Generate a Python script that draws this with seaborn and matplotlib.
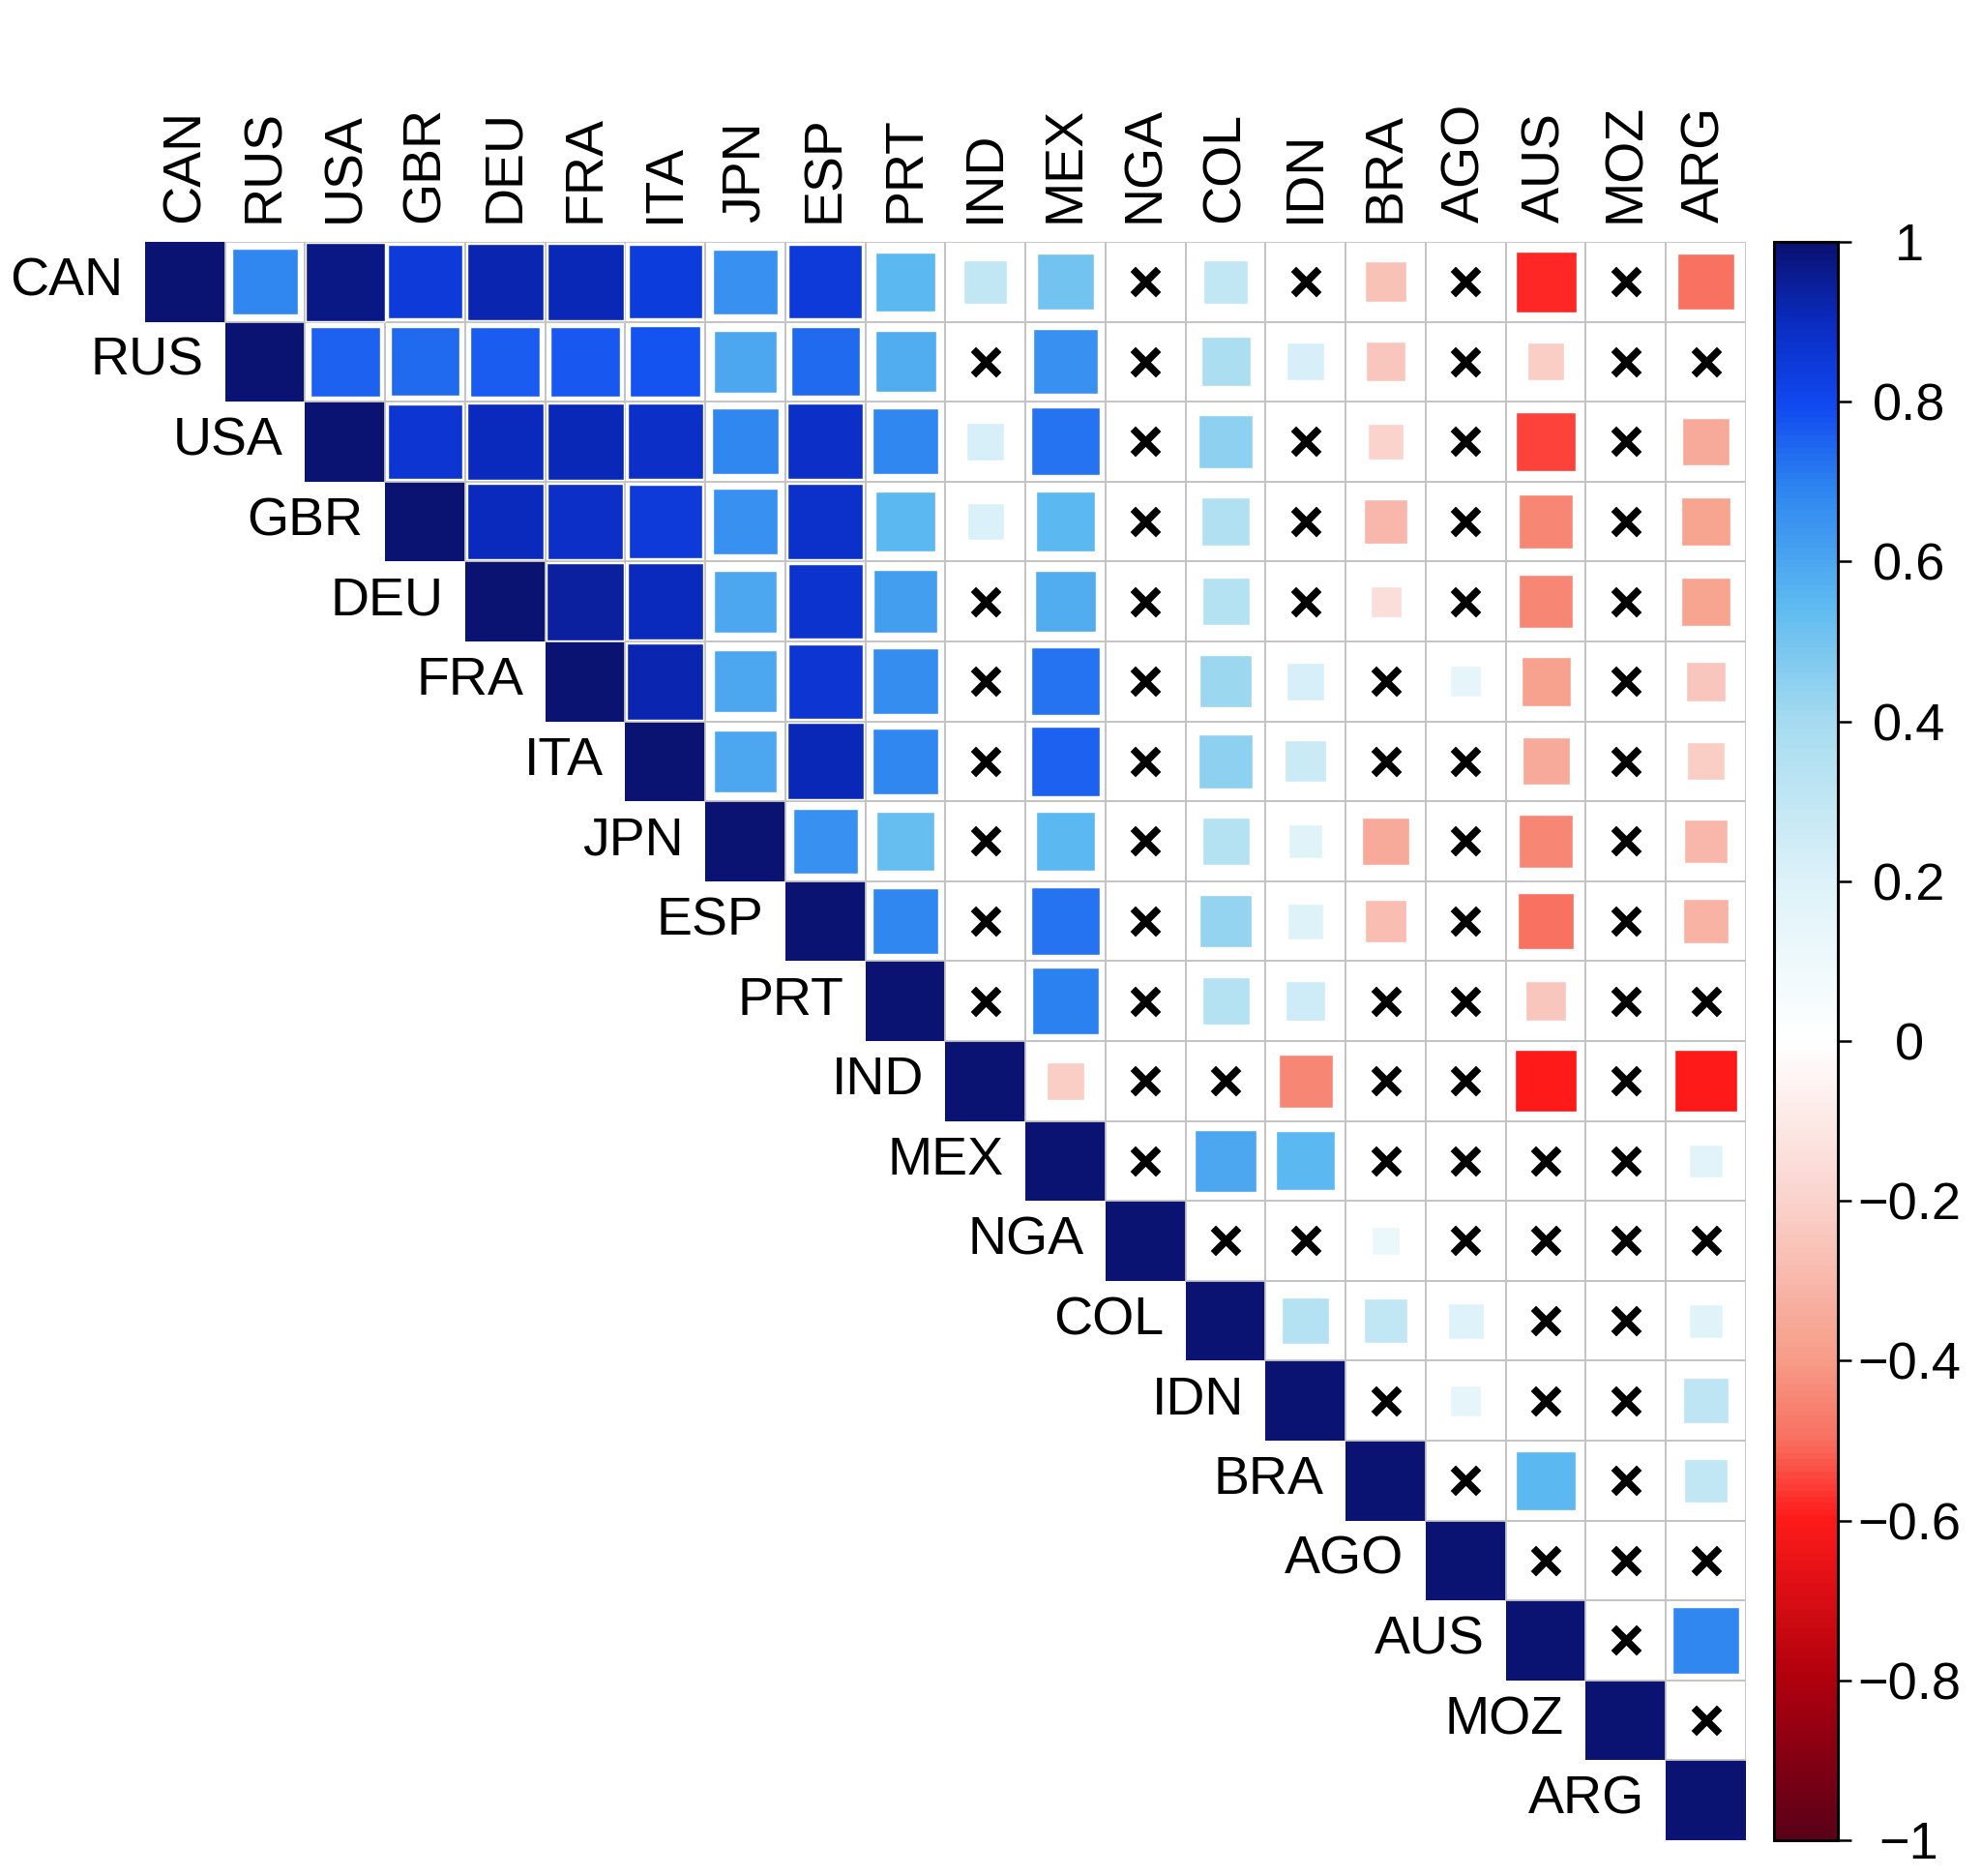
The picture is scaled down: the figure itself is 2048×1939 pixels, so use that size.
import numpy as np
import pandas as pd
import matplotlib
matplotlib.use("Agg")
import matplotlib.pyplot as plt
from matplotlib.colors import LinearSegmentedColormap
from matplotlib.markers import MarkerStyle
from matplotlib.patches import Rectangle
import seaborn as sns

countries = ["CAN", "RUS", "USA", "GBR", "DEU", "FRA", "ITA", "JPN", "ESP", "PRT",
             "IND", "MEX", "NGA", "COL", "IDN", "BRA", "AGO", "AUS", "MOZ", "ARG"]

# upper triangle, one list per row, starting right after the diagonal
# None = not significant (drawn as a cross)
X = None
r_CAN = [0.68, 0.97, 0.85, 0.92, 0.91, 0.84, 0.66, 0.85, 0.55, 0.30, 0.50, X, 0.30, X, -0.26, X, -0.58, X, -0.50]
r_RUS = [0.75, 0.74, 0.76, 0.77, 0.78, 0.60, 0.74, 0.58, X, 0.66, X, 0.38, 0.22, -0.25, X, -0.22, X, X]
r_USA = [0.86, 0.90, 0.91, 0.89, 0.68, 0.89, 0.68, 0.22, 0.72, X, 0.45, X, -0.20, X, -0.55, X, -0.35]
r_GBR = [0.90, 0.89, 0.85, 0.66, 0.88, 0.55, 0.21, 0.55, X, 0.36, X, -0.30, X, -0.45, X, -0.37]
r_DEU = [0.94, 0.90, 0.60, 0.87, 0.62, X, 0.58, X, 0.35, X, -0.15, X, -0.45, X, -0.37]
r_FRA = [0.92, 0.60, 0.86, 0.67, X, 0.72, X, 0.42, 0.22, X, 0.15, -0.38, X, -0.25]
r_ITA = [0.60, 0.91, 0.68, X, 0.75, X, 0.45, 0.27, X, X, -0.35, X, -0.22]
r_JPN = [0.66, 0.53, X, 0.55, X, 0.35, 0.18, -0.35, X, -0.45, X, -0.30]
r_ESP = [0.68, X, 0.72, X, 0.43, 0.20, -0.28, X, -0.50, X, -0.32]
r_PRT = [X, 0.70, X, 0.35, 0.25, X, X, -0.25, X, X]
r_IND = [-0.22, X, X, -0.45, X, X, -0.60, X, -0.60]
r_MEX = [X, 0.60, 0.55, X, X, X, X, 0.17]
r_NGA = [X, X, 0.12, X, X, X, X]
r_COL = [0.35, 0.30, 0.20, X, X, 0.18]
r_IDN = [X, 0.15, X, X, 0.32]
r_BRA = [X, 0.55, X, 0.30]
r_AGO = [X, X, X]
r_AUS = [X, 0.68]
r_MOZ = [X]
r_ARG = []

upper_rows = [r_CAN, r_RUS, r_USA, r_GBR, r_DEU, r_FRA, r_ITA, r_JPN, r_ESP, r_PRT,
              r_IND, r_MEX, r_NGA, r_COL, r_IDN, r_BRA, r_AGO, r_AUS, r_MOZ, r_ARG]

n = len(countries)
mat = np.full((n, n), np.nan)
insig = []
for i, row in enumerate(upper_rows):
    mat[i, i] = 1.0
    for k, v in enumerate(row):
        j = i + 1 + k
        if v is None:
            insig.append((i, j))
        else:
            mat[i, j] = v
corr = pd.DataFrame(mat, index=countries, columns=countries)

# colour ramp
anchors = [(-1.0, "#5a0018"), (-0.8, "#b0000d"), (-0.6, "#ff1a1a"), (-0.5, "#f87060"),
           (-0.4, "#f79c88"), (-0.2, "#fad3cd"), (0.0, "#ffffff"), (0.2, "#ddf2f9"),
           (0.4, "#a6dcf0"), (0.55, "#5cb9f0"), (0.7, "#2c82f0"), (0.8, "#1048f0"),
           (0.9, "#0a2cc2"), (1.0, "#0a1272")]
cmap = LinearSegmentedColormap.from_list("corr", [((v + 1) / 2, c) for v, c in anchors])

sns.set_style("white")
plt.rcParams["font.family"] = ["Liberation Sans", "DejaVu Sans"]
plt.rcParams["text.color"] = "black"
plt.rcParams["xtick.color"] = "black"
plt.rcParams["ytick.color"] = "black"

fig = plt.figure(figsize=(20.48, 19.39), dpi=100)
ax = fig.add_axes([0.0732, 0.0191, 0.8081, 0.8520])
cax = fig.add_axes([0.8955, 0.0191, 0.0322, 0.8520])

# diagonal cells through seaborn, which also gives the colour bar
diag_mask = ~np.eye(n, dtype=bool)
sns.heatmap(corr, mask=diag_mask, cmap=cmap, vmin=-1, vmax=1, ax=ax, cbar_ax=cax,
            xticklabels=countries, yticklabels=False, linewidths=0)

# grid of the upper triangle
for i in range(n):
    for j in range(i + 1, n):
        ax.add_patch(Rectangle((j, i), 1, 1, fill=False, edgecolor="#c4c4c4",
                               linewidth=1.3, zorder=1))

# squares sized by |r| (area proportional)
for i in range(n):
    for j in range(i + 1, n):
        v = mat[i, j]
        if np.isnan(v):
            continue
        s = np.sqrt(abs(v))
        ax.add_patch(Rectangle((j + 0.5 - s / 2, i + 0.5 - s / 2), s, s,
                               facecolor=cmap((v + 1) / 2), edgecolor="white",
                               linewidth=1.0, zorder=2))

# crosses for non-significant cells
ix = np.array([p[1] + 0.5 for p in insig])
iy = np.array([p[0] + 0.5 for p in insig])
cross = MarkerStyle("x", capstyle="round")
sns.scatterplot(x=ix, y=iy, marker=cross, color="black", s=360, linewidth=5.5,
                ax=ax, legend=False, zorder=5)

ax.set_xlim(0, n)
ax.set_ylim(n, 0)
ax.set_xlabel("")
ax.set_ylabel("")

# column labels on top
ax.xaxis.tick_top()
ax.set_xticks(np.arange(n) + 0.5)
ax.set_xticklabels(countries, rotation=90, fontsize=40)
ax.tick_params(axis="x", length=0, pad=14)
ax.tick_params(axis="y", length=0)

# row labels next to the diagonal
for i, c in enumerate(countries):
    ax.text(i - 0.27, i + 0.5, c, ha="right", va="center", fontsize=40)

# colour bar
cbar = ax.collections[0].colorbar
ticks = np.round(np.linspace(-1, 1, 11), 1)
cbar.set_ticks(ticks)
cbar.set_ticklabels([f"{t:g}".replace("-", "\u2212") for t in ticks])
cbar.outline.set_edgecolor("black")
cbar.outline.set_linewidth(2.2)
cax.tick_params(length=10, width=1.8, pad=43, labelsize=39, colors="black")
for lab in cax.get_yticklabels():
    lab.set_horizontalalignment("center")

fig.savefig("out.png", dpi=100)
